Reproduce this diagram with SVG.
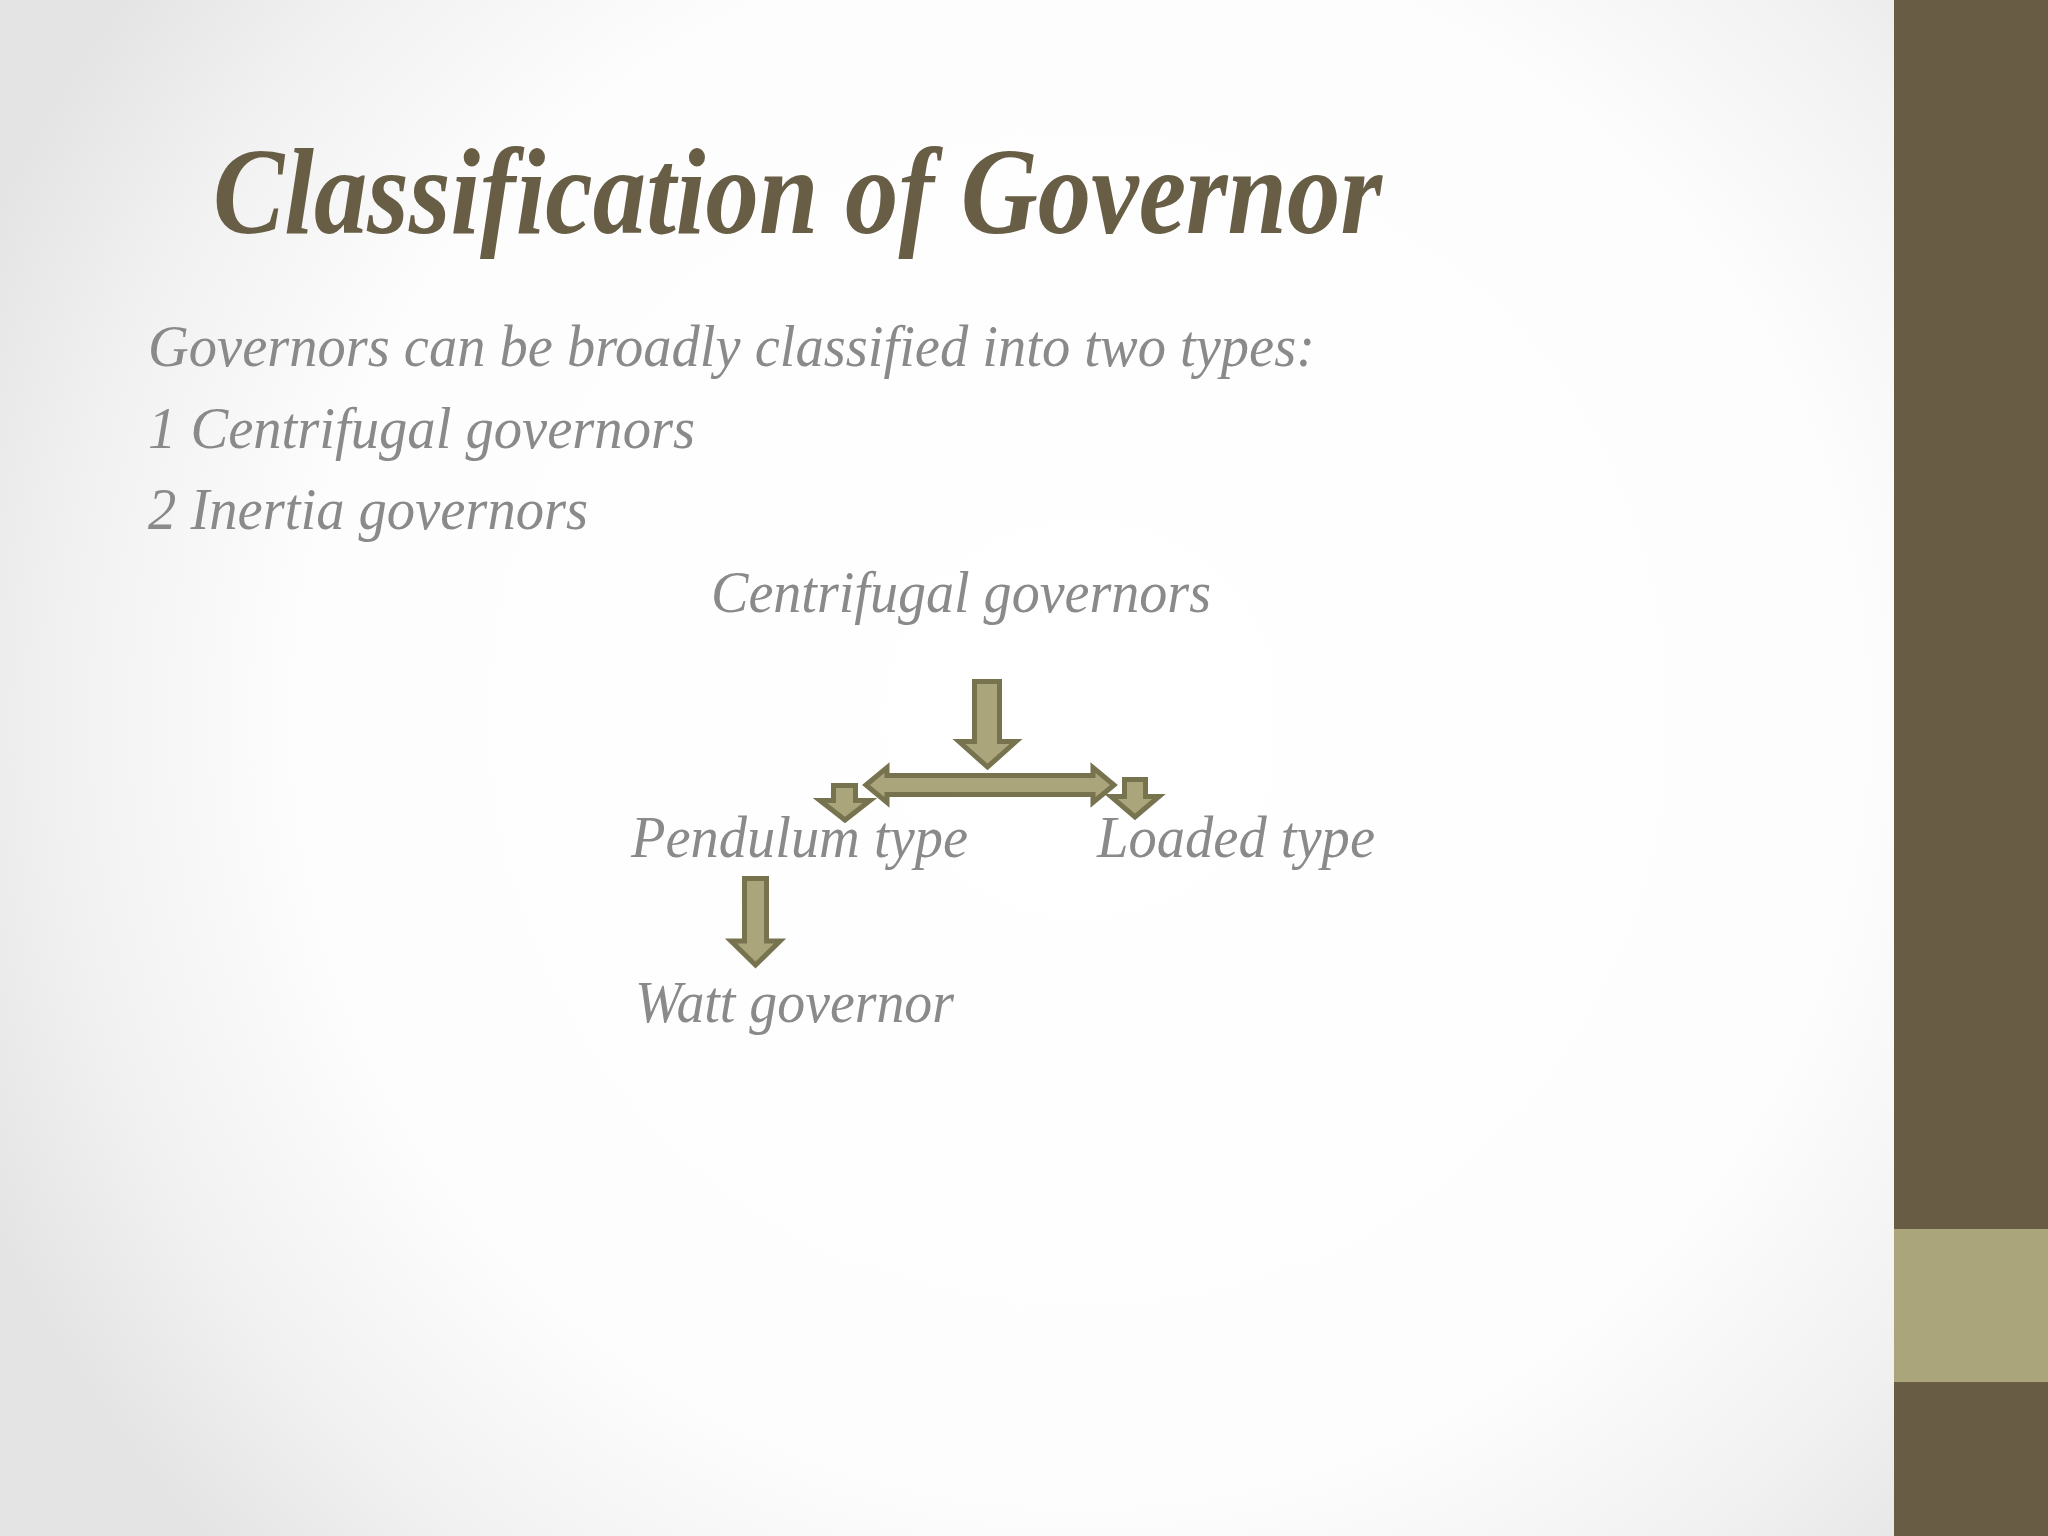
<svg xmlns="http://www.w3.org/2000/svg" width="2048" height="1536" viewBox="0 0 2048 1536">
  <defs>
    <radialGradient id="bg" cx="1080" cy="720" r="1200" gradientUnits="userSpaceOnUse">
      <stop offset="0" stop-color="#ffffff"/>
      <stop offset="0.65" stop-color="#fdfdfd"/>
      <stop offset="0.85" stop-color="#f1f1f1"/>
      <stop offset="1" stop-color="#e4e4e4"/>
    </radialGradient>
    <style>
      .title { font-family: "Liberation Serif", "Times New Roman", serif; font-style: italic; font-weight: bold; fill: #675E45; }
      .txt { font-family: "Liberation Serif", "Times New Roman", serif; font-style: italic; fill: #8A8A8A; font-size: 60px; }
      .arrow { fill: #ABA57C; stroke: #76734E; stroke-width: 5; stroke-linejoin: miter; }
    </style>
  </defs>
  <rect x="0" y="0" width="2048" height="1536" fill="url(#bg)"/>
  <g id="sidebar">
    <rect x="1894" y="0" width="154" height="1536" fill="#695C45"/>
    <rect x="1894" y="1229" width="154" height="153" fill="#ABA57C"/>
  </g>
  <g id="title">
    <text class="title" x="213" y="233" font-size="122" textLength="1169" lengthAdjust="spacingAndGlyphs">Classification of Governor</text>
  </g>
  <g id="intro">
    <text class="txt" x="148" y="366" textLength="1167" lengthAdjust="spacingAndGlyphs">Governors can be broadly classified into two types:</text>
    <text class="txt" x="148" y="448" textLength="547" lengthAdjust="spacingAndGlyphs">1 Centrifugal governors</text>
    <text class="txt" x="148" y="529" textLength="440" lengthAdjust="spacingAndGlyphs">2 Inertia governors</text>
  </g>
  <g id="node-centrifugal">
    <text class="txt" x="711" y="612" textLength="500" lengthAdjust="spacingAndGlyphs">Centrifugal governors</text>
  </g>
  <g id="node-pendulum">
    <text class="txt" x="631" y="857" textLength="337" lengthAdjust="spacingAndGlyphs">Pendulum type</text>
  </g>
  <g id="node-loaded">
    <text class="txt" x="1097" y="857" textLength="278" lengthAdjust="spacingAndGlyphs">Loaded type</text>
  </g>
  <g id="node-watt">
    <text class="txt" x="635" y="1022" textLength="319" lengthAdjust="spacingAndGlyphs">Watt governor</text>
  </g>
  <g id="connectors">
    <path class="arrow" d="M974.5,681.5 H999.5 V741.5 H1016 L987.5,767 L959,741.5 H974.5 Z"/>
    <path class="arrow" d="M866,785 L887,767.5 V775.5 H1093 V767.5 L1114,785 L1093,802.5 V794.5 H887 V802.5 Z"/>
    <path class="arrow" d="M833.5,785.5 H855.5 V800.5 H870 L845,820 L820,800.5 H833.5 Z"/>
    <path class="arrow" d="M1124.5,779.5 H1145.5 V796.5 H1159 L1135,817 L1111,796.5 H1124.5 Z"/>
    <path class="arrow" d="M744.5,878.5 H766.5 V941 H780 L755.5,965 L731,941 H744.5 Z"/>
  </g>
</svg>
